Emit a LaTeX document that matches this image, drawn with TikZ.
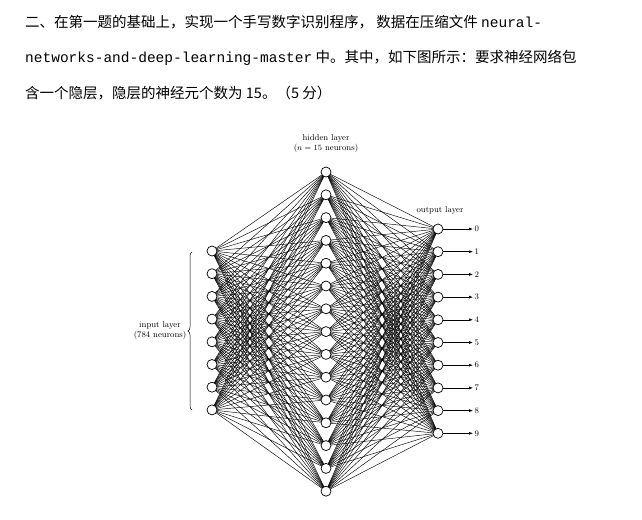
\documentclass[tikz,border=0pt]{standalone}
\usepackage{fontspec}
\newfontfamily\cjk{Noto Sans CJK SC}
\setmonofont{Liberation Mono}
\usetikzlibrary{decorations.pathreplacing,arrows.meta}
\begin{document}
\begin{tikzpicture}[x=1pt,y=-1pt,
  neuron/.style={circle,draw,fill=white,minimum size=10pt,inner sep=0pt,line width=0.7pt},
  conn/.style={line width=0.45pt},
  lab/.style={font=\fontsize{8.5}{10}\selectfont,align=center},
  txt/.style={anchor=west,inner sep=0pt,font=\fontsize{14.5}{16}\selectfont\cjk}]
\useasboundingbox (0,0) rectangle (642,519);
\node[txt] (l1) at (25,22) {二、在第一题的基础上，实现一个手写数字识别程序， 数据在压缩文件 \texttt{neural-}};
\node[txt] (l2) at (25,58) {\texttt{networks-and-deep-learning-master} 中。其中，如下图所示：要求神经网络包};
\node[txt] (l3) at (25,93) {含一个隐层，隐层的神经元个数为 15。（5 分）};
\foreach \i in {1,...,8} \coordinate (i\i) at (212,{251+(\i-1)*22.7});
\foreach \j in {1,...,15} \coordinate (h\j) at (326,{172+(\j-1)*22.8});
\foreach \k in {1,...,10} \coordinate (o\k) at (438,{229+(\k-1)*22.7});
\foreach \i in {1,...,8} \foreach \j in {1,...,15} \draw[conn] (i\i) -- (h\j);
\foreach \j in {1,...,15} \foreach \k in {1,...,10} \draw[conn] (h\j) -- (o\k);
\foreach \i in {1,...,8} \node[neuron] (I\i) at (i\i) {};
\foreach \j in {1,...,15} \node[neuron] (H\j) at (h\j) {};
\foreach \k [evaluate=\k as \d using int(\k-1)] in {1,...,10} {
  \node[neuron] (O\k) at (o\k) {};
  \coordinate (e\k) at (473,{229+(\k-1)*22.7});
  \draw[-{Latex[length=4pt,width=3pt]},line width=0.6pt] (O\k) -- (e\k);
  \node[lab,anchor=west,inner sep=1.5pt] (d\k) at (e\k) {\d};
}
\coordinate (bt) at (192,252); \coordinate (bb) at (192,410);
\draw[decorate,decoration={brace,amplitude=4pt},line width=0.5pt] (bb) -- (bt);
\node[lab] (hl) at (326,144) {hidden layer\\($n=15$ neurons)};
\node[lab] (ol) at (440,210) {output layer};
\node[lab] (il) at (160,331) {input layer\\(784 neurons)};
\end{tikzpicture}
\end{document}
